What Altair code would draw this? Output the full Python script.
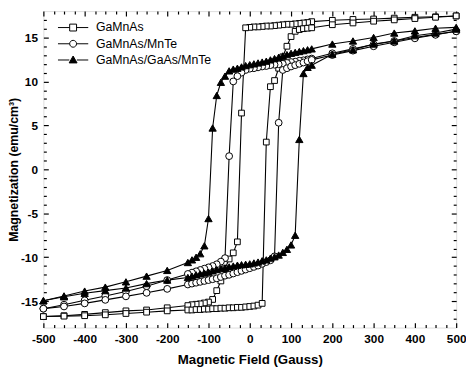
import altair as alt
import pandas as pd

SERIES = ["GaMnAs", "GaMnAs/MnTe", "GaMnAs/GaAs/MnTe"]

# field values of the descending branch (the ascending branch uses the reverse order)
H_DESC = [500, 450, 400, 350, 300, 250, 200,
          150, 140, 130, 120, 110, 100, 90, 80, 70, 60, 50, 40, 30, 20, 10, 0,
          -10, -20, -30, -40, -50, -60, -70, -80, -90, -100, -110, -120, -130, -140, -150,
          -200, -250, -300, -350, -400, -450, -500]
H_ASC = H_DESC[::-1]

# GaMnAs (open squares)
SQ_DESC = [17.45, 17.35, 17.3, 17.2, 17.1, 17.05, 16.95,
           16.8, 16.7, 16.65, 16.6, 16.55, 16.5, 16.5, 16.45, 16.4, 16.35, 16.3, 16.3, 16.25, 16.2, 16.2, 16.15,
           16.1, 6.4, -8.25, -9.5, -10.2, -11.3, -12.7, -13.8, -14.8, -15.1, -15.2, -15.3, -15.35, -15.4, -15.5,
           -15.75, -16.0, -16.1, -16.3, -16.5, -16.65, -16.75]
SQ_ASC = [-16.75, -16.7, -16.65, -16.55, -16.4, -16.25, -16.1,
          -16.0, -16.0, -15.95, -15.95, -15.9, -15.9, -15.85, -15.85, -15.8, -15.8, -15.75, -15.75, -15.7, -15.7,
          -15.65, -15.6, -15.55, -15.45, -15.25, 3.1, 9.4, 10.1, 11.5, 12.8, 14.0, 15.1, 15.7, 15.9, 16.0, 16.05, 16.1,
          16.45, 16.65, 16.85, 17.0, 17.15, 17.3, 17.45]

# GaMnAs/MnTe (open circles)
CI_DESC = [15.7, 15.35, 15.0, 14.6, 14.2, 13.7, 13.2,
           12.6, 12.5, 12.4, 12.35, 12.25, 12.2, 12.1, 12.0, 11.95, 11.9, 11.85, 11.75, 11.7, 11.6, 11.5, 11.45,
           11.3, 11.0, 10.6, 10.0, 1.5, -10.1, -10.5, -10.8, -11.0, -11.15, -11.3, -11.45, -11.6, -11.75, -11.9,
           -12.6, -13.3, -13.9, -14.4, -14.9, -15.4, -15.85]
CI_ASC = [-15.85, -15.6, -15.25, -14.85, -14.45, -14.05, -13.6,
          -13.1, -13.0, -12.9, -12.8, -12.7, -12.6, -12.5, -12.4, -12.25, -12.1, -12.0, -11.85, -11.7, -11.55,
          -11.4, -11.25, -11.1, -10.95, -10.75, -10.55, -10.35, -9.9, 5.3, 11.3, 11.5, 11.7, 11.85, 12.0, 12.15, 12.3, 12.45,
          13.0, 13.5, 14.0, 14.45, 14.9, 15.3, 15.7]

# GaMnAs/GaAs/MnTe (filled triangles)
TR_DESC = [16.15, 16.05, 15.75, 15.5, 15.0, 14.6, 14.25,
           13.7, 13.6, 13.5, 13.4, 13.3, 13.2, 13.05, 12.9, 12.75, 12.6, 12.45, 12.3, 12.2, 12.1, 12.0, 11.9,
           11.8, 11.65, 11.5, 11.4, 11.2, 10.6, 9.9, 8.4, 4.7, -5.6, -8.7, -9.6, -10.0, -10.3, -10.6,
           -11.5, -12.15, -12.8, -13.4, -13.85, -14.4, -14.95]
TR_ASC = [-14.95, -14.5, -14.1, -13.8, -13.5, -13.0, -12.6,
          -12.3, -12.15, -12.0, -11.9, -11.8, -11.7, -11.55, -11.4, -11.3, -11.2, -11.1, -11.0, -10.9, -10.85,
          -10.8, -10.75, -10.65, -10.55, -10.4, -10.3, -10.1, -9.95, -9.75, -9.45, -9.1, -8.6, -7.5, 3.4, 10.9, 11.6, 11.85,
          13.1, 13.6, 14.25, 14.6, 15.2, 15.5, 15.95]

X_MAJOR = [-500, -400, -300, -200, -100, 0, 100, 200, 300, 400, 500]
X_MINOR = [-475, -450, -425, -375, -350, -325, -275, -250, -225, -175, -150, -125, -75, -50, -25,
           25, 50, 75, 125, 150, 175, 225, 250, 275, 325, 350, 375, 425, 450, 475]
Y_MAJOR = [-15, -10, -5, 0, 5, 10, 15]
Y_MINOR = [-17, -16, -14, -13, -12, -11, -9, -8, -7, -6, -4, -3, -2, -1,
           1, 2, 3, 4, 6, 7, 8, 9, 11, 12, 13, 14, 16, 17]

rows = []
for name, desc, asc in [(SERIES[0], SQ_DESC, SQ_ASC),
                        (SERIES[1], CI_DESC, CI_ASC),
                        (SERIES[2], TR_DESC, TR_ASC)]:
    for i, (h, m) in enumerate(zip(H_DESC, desc)):
        rows.append({"series": name, "branch": name + " down", "idx": i, "H": h, "M": m})
    for i, (h, m) in enumerate(zip(H_ASC, asc)):
        rows.append({"series": name, "branch": name + " up", "idx": i, "H": h, "M": m})
df = pd.DataFrame(rows)

FONT = "Liberation Sans"
XS = alt.Scale(domain=[-500, 500], nice=False)
YS = alt.Scale(domain=[-18, 18], nice=False)


def tick_axis(orient, values, size, **kw):
    return alt.Axis(orient=orient, values=values, tickSize=size, offset=-size,
                    domain=False, grid=False, ticks=True, tickColor="black",
                    tickWidth=1.2, **kw)


def bare(orient, values, size):
    return tick_axis(orient, values, size, labels=False, title="")


base = alt.Chart(df)

x_main = tick_axis("bottom", X_MAJOR, 5, labels=True, labelExpr="datum.value + ''",
                   labelFont=FONT, labelFontSize=12, labelFontWeight="bold",
                   labelColor="black", labelPadding=6, labelFlush=False,
                   labelOverlap=False, labelBound=False,
                   title="Magnetic Field (Gauss)", titleFont=FONT, titleFontSize=13.5,
                   titleFontWeight="bold", titleColor="black", titlePadding=9)
y_main = tick_axis("left", Y_MAJOR, 5, labels=True, labelExpr="datum.value + ''",
                   labelFont=FONT, labelFontSize=12, labelFontWeight="bold",
                   labelColor="black", labelPadding=6, labelFlush=False,
                   labelOverlap=False, labelBound=False,
                   title="Magnetization (emu/cm³)", titleFont=FONT, titleFontSize=12.5,
                   titleFontWeight="bold", titleColor="black", titlePadding=0)

lines = base.mark_line(color="black", strokeWidth=1.1).encode(
    x=alt.X("H:Q", scale=XS, axis=x_main),
    y=alt.Y("M:Q", scale=YS, axis=y_main),
    detail="branch:N",
    order="idx:Q",
)

squares = base.transform_filter(alt.datum.series == SERIES[0]).mark_point(
    shape="square", size=34, filled=True, fill="white", stroke="black", strokeWidth=1, opacity=1
).encode(
    x=alt.X("H:Q", scale=XS, axis=bare("bottom", X_MINOR, 3)),
    y=alt.Y("M:Q", scale=YS, axis=bare("left", Y_MINOR, 3)),
)

circles = base.transform_filter(alt.datum.series == SERIES[1]).mark_point(
    shape="circle", size=48, filled=True, fill="white", stroke="black", strokeWidth=1, opacity=1
).encode(
    x=alt.X("H:Q", scale=XS, axis=bare("top", X_MAJOR, 5)),
    y=alt.Y("M:Q", scale=YS, axis=bare("right", Y_MAJOR, 5)),
)

triangles = base.transform_filter(alt.datum.series == SERIES[2]).mark_point(
    shape="triangle-up", size=55, filled=True, fill="black", stroke="black", strokeWidth=1, opacity=1
).encode(
    x=alt.X("H:Q", scale=XS, axis=bare("top", X_MINOR, 3)),
    y=alt.Y("M:Q", scale=YS, axis=bare("right", Y_MINOR, 3)),
)

LEG_PATHS = [
    "M-4.4,0H-1M1,0H4.4M-1,-1H1V1H-1Z",
    "M-4.4,0H-1M1,0H4.4M-1,0A1,1 0 1,0 1,0A1,1 0 1,0 -1,0Z",
    "M-4.4,0H-1.1M1.1,0H4.4M0,-1.15L1.15,0.85H-1.15Z",
]
leg = alt.Legend(title=None, orient="none", legendX=24, legendY=10.5,
                 labelFont=FONT, labelFontSize=12.5, labelColor="black",
                 labelOffset=17, rowPadding=3.5, symbolSize=49,
                 symbolStrokeColor="black", symbolStrokeWidth=1, symbolOpacity=1)
# legend-only layer: no rows pass the filter, the explicit scale domains keep the legend
legend_layer = base.transform_filter("false").mark_point(
    filled=True, opacity=1, strokeWidth=1
).encode(
    x=alt.X("H:Q", scale=XS, axis=None),
    y=alt.Y("M:Q", scale=YS, axis=None),
    shape=alt.Shape("series:N", scale=alt.Scale(domain=SERIES, range=LEG_PATHS), legend=leg),
    fill=alt.Fill("series:N", scale=alt.Scale(domain=SERIES, range=["white", "white", "black"]), legend=leg),
    stroke=alt.Stroke("series:N", scale=alt.Scale(domain=SERIES, range=["black", "black", "black"]), legend=leg),
)

chart = alt.layer(lines, squares, circles, triangles, legend_layer).resolve_axis(
    x="independent", y="independent"
).properties(
    width=420, height=322,
    autosize=alt.AutoSizeParams(type="none"),
    padding={"left": 36, "top": 0, "right": 10, "bottom": 38},
).configure_view(stroke="black", strokeWidth=1.5).configure(background="white")

chart.save("out.html", embed_options={"renderer": "svg", "actions": False})
